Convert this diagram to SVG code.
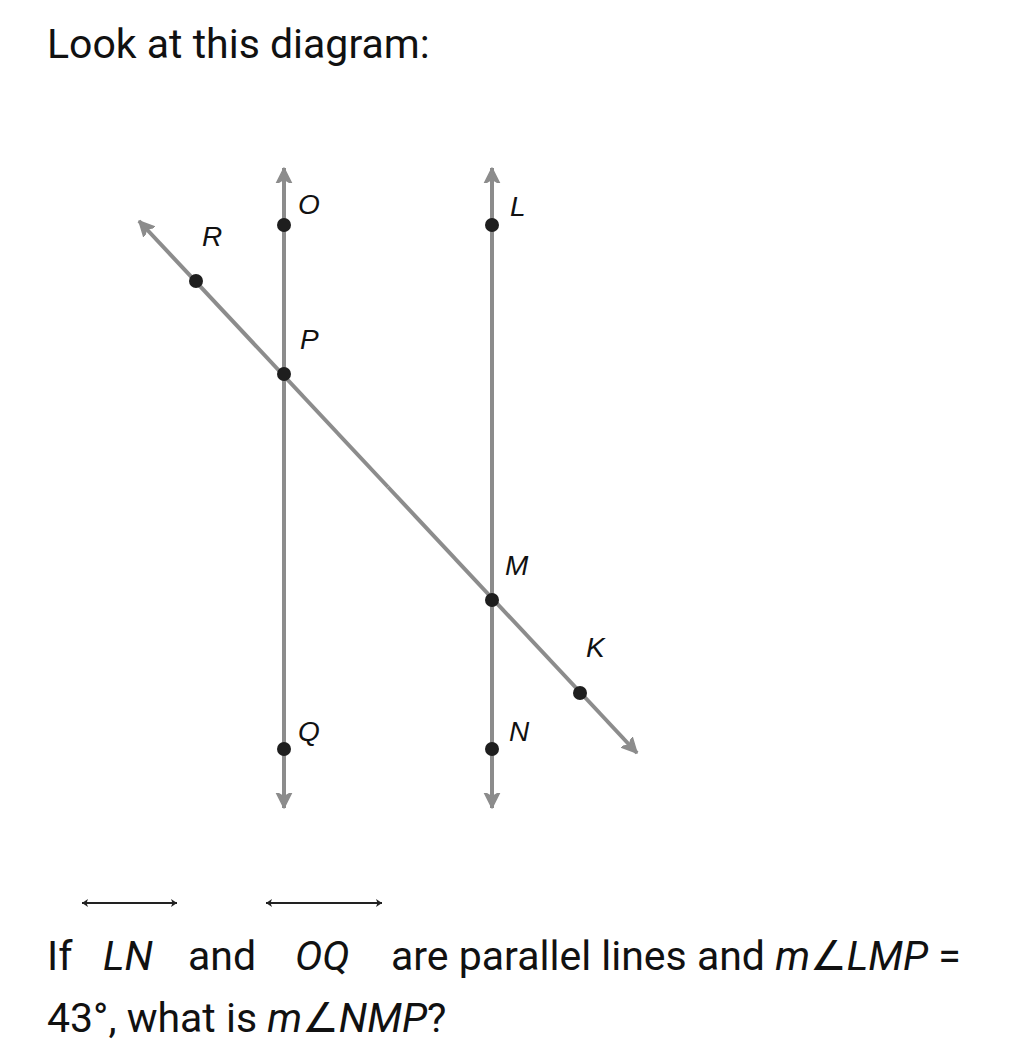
<svg xmlns="http://www.w3.org/2000/svg" width="1021" height="1059" viewBox="0 0 1021 1059">
<style>
.ln{stroke:#8c8c8c;stroke-width:4;fill:none}
.dot{fill:#1e1e1e}
.lbl{font-family:"Liberation Sans",Arial,sans-serif;font-style:italic;font-size:28px;fill:#111}
.t{font-family:Roboto,"DejaVu Sans",sans-serif;font-size:41px;fill:#111}
.i{font-style:italic}
.ov{stroke:#222;stroke-width:2;fill:none}
</style>
<defs>
<marker id="ah" markerUnits="userSpaceOnUse" markerWidth="30" markerHeight="30" viewBox="-15 -15 30 30" refX="0" refY="0" orient="auto">
<path d="M0,0 L-16,-8 L-11,0 L-16,8 Z" fill="#8c8c8c" stroke="#8c8c8c" stroke-width="1.5" stroke-linejoin="round"/>
</marker>
<marker id="sa" markerUnits="userSpaceOnUse" markerWidth="12" markerHeight="12" viewBox="-6 -6 12 12" refX="0" refY="0" orient="auto">
<path d="M0,0 L-6,-4 L-4.5,0 L-6,4 Z" fill="#222"/>
</marker>
</defs>
<text class="t" x="47" y="58">Look at this diagram:</text>
<g id="connectors">
<line class="ln" x1="284" y1="300" x2="284" y2="168" marker-end="url(#ah)"/>
<line class="ln" x1="284" y1="300" x2="284" y2="808" marker-end="url(#ah)"/>
<line class="ln" x1="492" y1="300" x2="492" y2="168" marker-end="url(#ah)"/>
<line class="ln" x1="492" y1="300" x2="492" y2="808" marker-end="url(#ah)"/>
<line class="ln" x1="388" y1="487" x2="139" y2="221" marker-end="url(#ah)"/>
<line class="ln" x1="388" y1="487" x2="637" y2="753" marker-end="url(#ah)"/>
</g>
<g id="O"><circle class="dot" cx="284" cy="225" r="7"/><text class="lbl" x="298" y="214">O</text></g>
<g id="L"><circle class="dot" cx="492" cy="225" r="7"/><text class="lbl" x="510" y="216">L</text></g>
<g id="R"><circle class="dot" cx="196" cy="281" r="7"/><text class="lbl" x="202" y="246">R</text></g>
<g id="P"><circle class="dot" cx="284" cy="374" r="7"/><text class="lbl" x="300" y="349">P</text></g>
<g id="M"><circle class="dot" cx="492" cy="600" r="7"/><text class="lbl" x="505" y="575">M</text></g>
<g id="K"><circle class="dot" cx="580" cy="693" r="7"/><text class="lbl" x="586" y="657">K</text></g>
<g id="Q"><circle class="dot" cx="284" cy="749" r="7"/><text class="lbl" x="298" y="741">Q</text></g>
<g id="N"><circle class="dot" cx="492" cy="749" r="7"/><text class="lbl" x="509" y="741">N</text></g>
<g id="question">
<line class="ov" x1="130" y1="903" x2="82" y2="903" marker-end="url(#sa)"/>
<line class="ov" x1="130" y1="903" x2="177" y2="903" marker-end="url(#sa)"/>
<line class="ov" x1="320" y1="903" x2="266" y2="903" marker-end="url(#sa)"/>
<line class="ov" x1="320" y1="903" x2="382" y2="903" marker-end="url(#sa)"/>
<text class="t" y="970"><tspan x="47">If</tspan><tspan x="103" class="i">LN</tspan><tspan x="188">and</tspan><tspan x="295" class="i">OQ</tspan><tspan x="391">are parallel lines and </tspan><tspan class="i">m∠LMP</tspan><tspan> =</tspan></text>
<text class="t" x="47" y="1032">43°, what is <tspan class="i">m∠NMP</tspan>?</text>
</g>
</svg>
